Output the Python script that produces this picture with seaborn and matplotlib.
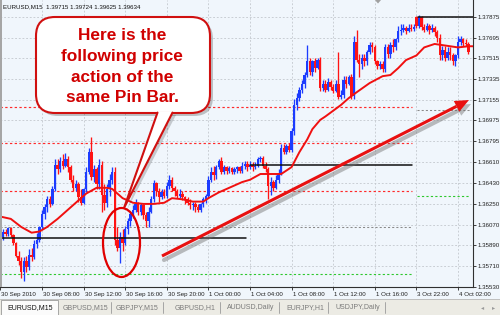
import numpy as np
import matplotlib
matplotlib.use("Agg")
import matplotlib.pyplot as plt
import matplotlib.transforms as mtransforms
import seaborn as sns
from matplotlib.patches import FancyBboxPatch, Ellipse, Polygon, Rectangle

sns.set_style("white")
plt.rcParams['font.family'] = ['Liberation Sans', 'DejaVu Sans']

# ---------------- data ----------------
time_labels = ["30 Sep 2010", "30 Sep 08:00", "30 Sep 12:00", "30 Sep 16:00",
               "30 Sep 20:00", "1 Oct 00:00", "1 Oct 04:00", "1 Oct 08:00",
               "1 Oct 12:00", "1 Oct 16:00", "3 Oct 22:00", "4 Oct 02:00"]
time_label_bars = [0, 16, 32, 48, 64, 80, 96, 112, 128, 144, 160, 176]

price_ticks = [1.37875, 1.37695, 1.37515, 1.37335, 1.37155, 1.36975, 1.36795,
               1.36610, 1.36430, 1.36250, 1.36070, 1.35890, 1.35710, 1.35530]
price_labels = ["1.37875", "1.37695", "1.37515", "1.37335", "1.37155", "1.36975",
                "1.36795", "1.36610", "1.36430", "1.36250", "1.36070", "1.35890",
                "1.35710", "1.35530"]

open_ = [1.3598,1.3596,1.3601,1.3599,1.3604,1.3598,1.3591,1.3580,1.3575,1.3566,
 1.3575,1.3570,1.3581,1.3579,1.3590,1.3594,1.3605,1.3616,1.3622,1.3629,
 1.3625,1.3638,1.3659,1.3655,1.3662,1.3658,1.3664,1.3657,1.3646,1.3639,
 1.3642,1.3631,1.3626,1.3638,1.3653,1.3670,1.3648,1.3655,1.3642,1.3659,
 1.3633,1.3626,1.3638,1.3646,1.3653,1.3594,1.3587,1.3596,1.3591,1.3603,
 1.3610,1.3616,1.3620,1.3625,1.3618,1.3624,1.3615,1.3610,1.3618,1.3629,
 1.3643,1.3636,1.3631,1.3635,1.3632,1.3641,1.3646,1.3639,1.3636,1.3632,
 1.3634,1.3631,1.3629,1.3626,1.3624,1.3625,1.3622,1.3620,1.3625,1.3629,
 1.3632,1.3646,1.3653,1.3650,1.3657,1.3662,1.3653,1.3657,1.3654,1.3656,
 1.3653,1.3655,1.3657,1.3654,1.3658,1.3660,1.3657,1.3659,1.3657,1.3658,
 1.3664,1.3665,1.3658,1.3655,1.3641,1.3644,1.3639,1.3646,1.3651,1.3674,
 1.3670,1.3675,1.3672,1.3688,1.3711,1.3717,1.3724,1.3729,1.3737,1.3749,
 1.3740,1.3749,1.3743,1.3750,1.3726,1.3729,1.3724,1.3731,1.3727,1.3723,
 1.3729,1.3718,1.3720,1.3733,1.3729,1.3735,1.3719,1.3766,1.3750,1.3747,
 1.3752,1.3749,1.3757,1.3763,1.3761,1.3749,1.3745,1.3747,1.3742,1.3761,
 1.3755,1.3763,1.3761,1.3768,1.3775,1.3776,1.3778,1.3775,1.3778,1.3777,
 1.3787,1.3780,1.3787,1.3779,1.3776,1.3780,1.3776,1.3778,1.3774,1.3769,
 1.3754,1.3759,1.3752,1.3757,1.3754,1.3749,1.3754,1.3766,1.3768,1.3765,1.3764]

high = [1.3600,1.3603,1.3603,1.3605,1.3605,1.3599,1.3592,1.3584,1.3579,1.3579,
 1.3580,1.3586,1.3587,1.3594,1.3600,1.3606,1.3620,1.3625,1.3632,1.3632,
 1.3641,1.3664,1.3664,1.3666,1.3668,1.3669,1.3667,1.3659,1.3650,1.3646,
 1.3644,1.3638,1.3639,1.3657,1.3674,1.3683,1.3659,1.3657,1.3664,1.3662,
 1.3642,1.3642,1.3651,1.3657,1.3657,1.3605,1.3601,1.3603,1.3606,1.3613,
 1.3618,1.3624,1.3629,1.3627,1.3626,1.3625,1.3618,1.3622,1.3632,1.3646,
 1.3644,1.3639,1.3638,1.3638,1.3644,1.3650,1.3648,1.3641,1.3638,1.3638,
 1.3636,1.3632,1.3631,1.3629,1.3627,1.3627,1.3625,1.3626,1.3631,1.3634,
 1.3649,1.3657,1.3658,1.3659,1.3664,1.3666,1.3659,1.3658,1.3658,1.3657,
 1.3657,1.3658,1.3658,1.3661,1.3662,1.3662,1.3662,1.3661,1.3661,1.3666,
 1.3667,1.3667,1.3661,1.3657,1.3648,1.3646,1.3650,1.3655,1.3677,1.3677,
 1.3677,1.3678,1.3691,1.3716,1.3721,1.3727,1.3733,1.3740,1.3763,1.3752,
 1.3750,1.3752,1.3752,1.3753,1.3733,1.3733,1.3734,1.3733,1.3729,1.3733,
 1.3757,1.3724,1.3736,1.3736,1.3737,1.3738,1.3771,1.3776,1.3755,1.3755,
 1.3755,1.3759,1.3766,1.3766,1.3763,1.3750,1.3749,1.3749,1.3764,1.3764,
 1.3766,1.3768,1.3769,1.3780,1.3781,1.3781,1.3780,1.3781,1.3781,1.3781,
 1.3788,1.3789,1.3788,1.3781,1.3782,1.3781,1.3781,1.3780,1.3776,1.3773,
 1.3762,1.3762,1.3761,1.3761,1.3756,1.3755,1.3771,1.3771,1.3769,1.3768,1.3766]

low = [1.3594,1.3594,1.3597,1.3597,1.3596,1.3589,1.3579,1.3572,1.3561,1.3558,
 1.3566,1.3568,1.3575,1.3577,1.3587,1.3592,1.3603,1.3612,1.3618,1.3622,
 1.3624,1.3636,1.3651,1.3653,1.3655,1.3657,1.3653,1.3644,1.3636,1.3636,
 1.3627,1.3624,1.3625,1.3635,1.3651,1.3646,1.3644,1.3638,1.3638,1.3618,
 1.3620,1.3622,1.3632,1.3642,1.3589,1.3584,1.3574,1.3584,1.3589,1.3599,
 1.3606,1.3613,1.3618,1.3615,1.3615,1.3612,1.3605,1.3605,1.3617,1.3627,
 1.3632,1.3627,1.3629,1.3630,1.3630,1.3638,1.3636,1.3632,1.3630,1.3630,
 1.3628,1.3625,1.3624,1.3621,1.3620,1.3618,1.3618,1.3618,1.3622,1.3626,
 1.3631,1.3644,1.3646,1.3647,1.3655,1.3651,1.3651,1.3651,1.3652,1.3651,
 1.3651,1.3652,1.3652,1.3652,1.3655,1.3654,1.3655,1.3654,1.3655,1.3657,
 1.3661,1.3656,1.3653,1.3629,1.3633,1.3636,1.3638,1.3643,1.3650,1.3668,
 1.3668,1.3670,1.3670,1.3685,1.3707,1.3714,1.3721,1.3726,1.3735,1.3737,
 1.3736,1.3740,1.3742,1.3723,1.3723,1.3722,1.3723,1.3724,1.3721,1.3722,
 1.3716,1.3716,1.3717,1.3726,1.3728,1.3716,1.3716,1.3748,1.3735,1.3742,
 1.3745,1.3746,1.3755,1.3757,1.3747,1.3742,1.3742,1.3740,1.3740,1.3752,
 1.3752,1.3757,1.3759,1.3766,1.3772,1.3774,1.3773,1.3774,1.3775,1.3775,
 1.3778,1.3778,1.3776,1.3774,1.3775,1.3773,1.3774,1.3771,1.3766,1.3750,
 1.3750,1.3749,1.3750,1.3750,1.3746,1.3745,1.3752,1.3763,1.3762,1.3762,1.3755]

close = [1.3596,1.3601,1.3599,1.3604,1.3598,1.3591,1.3580,1.3575,1.3566,1.3575,
 1.3570,1.3581,1.3579,1.3590,1.3594,1.3605,1.3616,1.3622,1.3629,1.3625,
 1.3638,1.3659,1.3655,1.3662,1.3658,1.3664,1.3657,1.3646,1.3639,1.3642,
 1.3631,1.3626,1.3638,1.3653,1.3670,1.3648,1.3655,1.3642,1.3659,1.3633,
 1.3626,1.3638,1.3646,1.3653,1.3594,1.3587,1.3596,1.3591,1.3603,1.3610,
 1.3616,1.3620,1.3625,1.3618,1.3624,1.3615,1.3610,1.3618,1.3629,1.3643,
 1.3636,1.3631,1.3635,1.3632,1.3641,1.3646,1.3639,1.3636,1.3632,1.3634,
 1.3631,1.3629,1.3626,1.3624,1.3625,1.3622,1.3620,1.3625,1.3629,1.3632,
 1.3646,1.3653,1.3650,1.3657,1.3662,1.3653,1.3657,1.3654,1.3656,1.3653,
 1.3655,1.3657,1.3654,1.3658,1.3660,1.3657,1.3659,1.3657,1.3658,1.3664,
 1.3665,1.3658,1.3655,1.3641,1.3644,1.3639,1.3646,1.3651,1.3674,1.3670,
 1.3675,1.3672,1.3688,1.3711,1.3717,1.3724,1.3729,1.3737,1.3749,1.3740,
 1.3749,1.3743,1.3750,1.3726,1.3729,1.3724,1.3731,1.3727,1.3723,1.3729,
 1.3718,1.3720,1.3733,1.3729,1.3735,1.3719,1.3766,1.3750,1.3747,1.3752,
 1.3749,1.3757,1.3763,1.3761,1.3749,1.3745,1.3747,1.3742,1.3761,1.3755,
 1.3763,1.3761,1.3768,1.3775,1.3776,1.3778,1.3775,1.3778,1.3777,1.3779,
 1.3780,1.3787,1.3779,1.3776,1.3780,1.3776,1.3778,1.3774,1.3769,1.3754,
 1.3759,1.3752,1.3757,1.3754,1.3749,1.3754,1.3766,1.3768,1.3765,1.3764,1.3757]

# moving average (at selected bars)
ma_bars = [0, 4, 8, 12, 15, 18, 22, 26, 30, 33, 37, 41, 43, 47, 51, 55, 59, 63, 66,
           70, 74, 78, 80, 84, 87, 93, 96, 100, 104, 108, 112, 115, 118, 120, 123,
           125, 131, 134, 137, 142, 147, 150, 153, 156, 160, 163, 167, 170, 173,
           176, 180, 182]
ma_vals = [1.3614, 1.3612, 1.3605, 1.3600, 1.3601, 1.3605, 1.3612, 1.3620, 1.3628,
           1.3634, 1.3639, 1.3639, 1.3638, 1.3630, 1.3626, 1.3625, 1.3625, 1.3626,
           1.3630, 1.3629, 1.3627, 1.3627, 1.3630, 1.3635, 1.3638, 1.3644, 1.3646,
           1.3651, 1.3651, 1.3651, 1.3657, 1.3670, 1.3681, 1.3690, 1.3698, 1.3701,
           1.3711, 1.3717, 1.3722, 1.3730, 1.3736, 1.3737, 1.3743, 1.3750, 1.3754,
           1.3761, 1.3764, 1.3763, 1.3762, 1.3761, 1.3762, 1.3762]

# drawn horizontal levels: (price, first bar, last bar)
black_levels = [(1.35950, -0.2, 94.5), (1.36592, 96.0, 158.3), (1.37875, 160.6, 182.0)]
red_dash_levels = [(1.37095, -0.2, 158.3), (1.36783, -0.2, 158.3), (1.36358, -0.2, 158.3)]
gray_dash_levels = [(1.36046, -0.2, 158.3), (1.37069, 160.4, 180.5)]
green_dash_levels = [(1.35639, -0.2, 158.3), (1.36315, 160.4, 180.5)]

header = "EURUSD,M15  1.39715 1.39724 1.39625 1.39634"
tabs = ["EURUSD,M15", "GBPUSD,M15", "GBPJPY,M15", "GBPUSD,H1",
        "AUDUSD,Daily", "EURJPY,H1", "USDJPY,Daily"]
bubble_lines = ["Here is the", "following price", "action of the", "same Pin Bar."]

# ---------------- figure ----------------
BG = '#f0f6fc'
W, H = 500, 315
fig = plt.figure(figsize=(W / 100, H / 100), dpi=100, facecolor=BG)

# main chart area: x pixels 0..473, y pixels 0..287
ax = fig.add_axes([0, (H - 287) / H, 473 / W, 287 / H])
ax.set_facecolor(BG)
ax.set_xlim(-0.4 / 2.6, (473 - 0.4) / 2.6)
ax.set_ylim(1.35528, 1.38022)

o = np.array(open_); c = np.array(close); hi = np.array(high); lo = np.array(low)
xb = np.arange(len(o))
up = c >= o
col = np.where(up, '#1c3cff', '#ff1414')

# grid
ax.set_yticks(price_ticks)
ax.set_yticklabels(price_labels)
ax.set_xticks(time_label_bars)
ax.set_xticklabels(time_labels)
ax.grid(True, color='#c3c8ce', ls=(0, (2.2, 2.2)), lw=0.6)
ax.set_axisbelow(True)

# drawn level lines
for p, a, b in red_dash_levels:
    ax.plot([a, b], [p, p], color='#ff2a2a', lw=0.85, ls=(0, (2, 2)), zorder=1.5)
for p, a, b in gray_dash_levels:
    ax.plot([a, b], [p, p], color='#8a8a8a', lw=0.75, ls=(0, (2, 2)), zorder=1.5)
for p, a, b in green_dash_levels:
    ax.plot([a, b], [p, p], color='#2ec82e', lw=0.8, ls=(0, (2, 2)), zorder=1.5)

# candles
ax.vlines(xb, lo, hi, colors=col, lw=0.95, zorder=2)
body = np.maximum(np.abs(c - o), 0.00004)
ax.bar(xb, body, bottom=np.minimum(o, c), width=0.92, color=col, lw=0, zorder=2.1)

for p, a, b in black_levels:
    ax.plot([a, b], [p, p], color='#101010', lw=1.1, zorder=2.5)

# moving average
sns.lineplot(x=ma_bars, y=ma_vals, color='#f01010', lw=1.4, ax=ax, zorder=3)

# axes styling
ax.yaxis.tick_right()
for s in ['left', 'top']:
    ax.spines[s].set_visible(False)
for s in ['right', 'bottom']:
    ax.spines[s].set_visible(True)
    ax.spines[s].set_color('#303030')
    ax.spines[s].set_linewidth(0.8)
ax.tick_params(axis='y', which='both', right=True, left=False, length=2.2, width=0.6,
               pad=1.2, labelsize=4.4, colors='#202020')
ax.tick_params(axis='x', which='both', bottom=True, length=2.2, width=0.6,
               pad=1.5, labelsize=4.4, colors='#202020')
offset = mtransforms.ScaledTranslation(1 / 100, 0, fig.dpi_scale_trans)
for lab in ax.get_xticklabels():
    lab.set_ha('left')
    lab.set_transform(lab.get_transform() + offset)
ax.set_xlabel(''); ax.set_ylabel('')

# ---------------- overlay (annotations, pixel coordinates) ----------------
ov = fig.add_axes([0, 0, 1, 1], facecolor='none')
ov.set_xlim(0, W); ov.set_ylim(H, 0); ov.axis('off')

# window border on the left
ov.add_patch(Rectangle((0, 0), 1.6, 287, color='#a6a6a6', lw=0))

# header text
ov.text(3, 6.5, header, fontsize=4.4, color='#101010', va='center', ha='left')

# chart-shift marker
ov.add_patch(Polygon([(375, 0), (381, 0), (378, 3.5)], closed=True, color='#a0a0a0', lw=0))

RED = '#d01010'
# bubble shadow
ov.add_patch(FancyBboxPatch((39, 20), 174, 96, boxstyle="round,pad=0,rounding_size=19",
                            fc='#000000', ec='none', alpha=0.22, zorder=1))
ov.add_patch(Polygon([(161, 115), (127, 210), (176, 115)], closed=True,
                     fc='#000000', ec='none', alpha=0.18, zorder=1))
# bubble
ov.add_patch(FancyBboxPatch((36, 17), 174, 96, boxstyle="round,pad=0,rounding_size=19",
                            fc='white', ec=RED, lw=1.5, zorder=2))
ov.add_patch(Polygon([(157.5, 111.5), (124, 208), (172.5, 111.5)], closed=True,
                     fc='white', ec='none', zorder=3))
ov.plot([157.5, 124, 172.5], [112.6, 208, 112.6], color=RED, lw=1.5, zorder=4,
        solid_joinstyle='miter')

baselines = [39.5, 60.5, 81.5, 102.5]
for t, yb in zip(bubble_lines, baselines):
    ov.text(122, yb, t, fontsize=12.4, fontweight='bold', color='#d00000',
            ha='center', va='baseline', zorder=5, family=['Liberation Sans', 'DejaVu Sans'])

# ellipse around the pin bar
ov.add_patch(Ellipse((121.5, 242.5), 37, 69, fill=False, ec='#e00000', lw=1.6, zorder=4))

# trend arrow with shadow
tip = np.array([469.0, 100.0]); start = np.array([162.0, 256.0])
u = (tip - start) / np.linalg.norm(tip - start)
nrm = np.array([-u[1], u[0]])
base = tip - 14 * u
sh = np.array([2.0, 4.0])
ov.plot([start[0] + sh[0], base[0] + sh[0]], [start[1] + sh[1], base[1] + sh[1]],
        color='#707070', lw=3.0, alpha=0.45, solid_capstyle='round', zorder=3)
ov.add_patch(Polygon([tip + sh, base + 6 * nrm + sh, base - 6 * nrm + sh], closed=True,
                     fc='#707070', alpha=0.45, ec='none', zorder=3))
ov.plot([start[0], base[0]], [start[1], base[1]], color='#e81010', lw=2.2,
        solid_capstyle='butt', zorder=4)
ov.add_patch(Polygon([tip, base + 6 * nrm, base - 6 * nrm], closed=True,
                     fc='#e81010', ec='none', zorder=4))

# tab bar
ov.add_patch(Rectangle((0, 299), W, 16, color='#ecebe4', lw=0, zorder=1))
ov.plot([0, W], [299.3, 299.3], color='#b8b8b8', lw=0.6, zorder=2)
ov.add_patch(Rectangle((0.5, 300), 57, 16, fc='#fbfbfb', ec='#9a9a9a', lw=0.6, zorder=2))
tab_x = [7, 63, 116, 175, 227, 286, 336]
for i, (t, x) in enumerate(zip(tabs, tab_x)):
    ov.text(x, 307.5, t, fontsize=5.0, color='#101010' if i == 0 else '#7a7a7a',
            ha='left', va='center', zorder=3)
for x in [111, 163, 220, 279, 328, 385]:
    ov.plot([x, x], [302, 313], color='#9a9a9a', lw=0.6, zorder=3)
ov.text(483, 307.5, '\u25c2', fontsize=4.5, color='#9a9a9a', ha='center', va='center',
        family=['DejaVu Sans'])
ov.text(494, 307.5, '\u25b8', fontsize=4.5, color='#9a9a9a', ha='center', va='center',
        family=['DejaVu Sans'])

fig.savefig('out.png', dpi=100, facecolor=BG)
